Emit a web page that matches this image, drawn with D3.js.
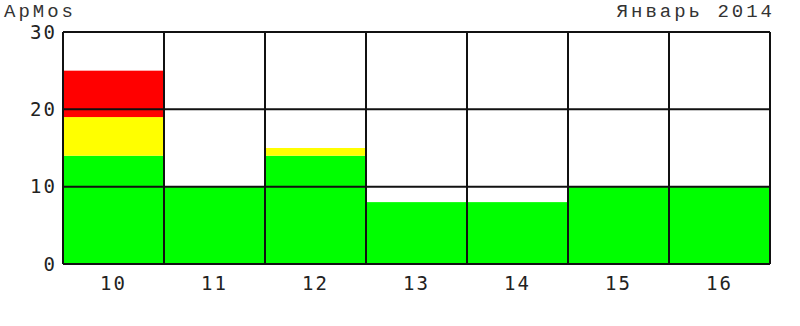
<!DOCTYPE html>
<html lang="ru">
  <head>
    <meta charset="UTF-8" />
    <title>ApMos</title>
    <style>
      body { margin: 0; background: #fff; }
      .tick text { font-family: "DejaVu Sans Mono", monospace; font-size: 19px; letter-spacing: 2px; fill: #222; }
      .title { font-family: "Liberation Mono", "Courier New", monospace; font-size: 19px; letter-spacing: 3px; fill: #333; }
    </style>
  </head>
  <body>
    <script src="https://cdn.jsdelivr.net/npm/d3@7"></script>
    <script>
    // days of January 2014
    var days = ["10", "11", "12", "13", "14", "15", "16"];
    // stacked parts of ApMos per day
    var green  = [14, 10, 14, 8, 8, 10, 10];
    var yellow = [5, 0, 1, 0, 0, 0, 0];
    var red    = [6, 0, 0, 0, 0, 0, 0];
    var yTicks = [0, 10, 20, 30];

    var width = 800, height = 326;
    var margin = { top: 32, right: 30, bottom: 62, left: 63 };

    var svg = d3.select("body").append("svg")
      .attr("width", width)
      .attr("height", height);

    var g = svg.append("g")
      .attr("transform", "translate(" + margin.left + "," + margin.top + ")");

    var w = width - margin.left - margin.right;
    var h = height - margin.top - margin.bottom;

    var x = d3.scaleBand().domain(days).range([0, w]).padding(0);
    var y = d3.scaleLinear().domain([0, 30]).range([h, 0]);

    var rows = days.map(function(d, i) {
      return { day: d, green: green[i], yellow: yellow[i], red: red[i] };
    });
    var stack = d3.stack().keys(["green", "yellow", "red"])(rows);
    var colors = { green: "#00ff00", yellow: "#ffff00", red: "#ff0000" };

    g.selectAll("g.layer")
      .data(stack)
      .enter().append("g")
      .attr("class", "layer")
      .attr("fill", function(d) { return colors[d.key]; })
      .selectAll("rect")
      .data(function(d) { return d; })
      .enter().append("rect")
      .attr("x", function(d) { return x(d.data.day); })
      .attr("width", x.bandwidth())
      .attr("y", function(d) { return y(d[1]); })
      .attr("height", function(d) { return y(d[0]) - y(d[1]); });

    // grid
    g.selectAll("line.hgrid")
      .data(yTicks)
      .enter().append("line")
      .attr("x1", 0).attr("x2", w)
      .attr("y1", function(d) { return y(d); })
      .attr("y2", function(d) { return y(d); })
      .attr("stroke", "#111").attr("stroke-width", 2);

    var vx = days.map(function(d) { return x(d); }).concat([w]);
    g.selectAll("line.vgrid")
      .data(vx)
      .enter().append("line")
      .attr("x1", function(d) { return d; })
      .attr("x2", function(d) { return d; })
      .attr("y1", 0).attr("y2", h)
      .attr("stroke", "#111").attr("stroke-width", 2);

    var yAxis = g.append("g")
      .call(d3.axisLeft(y).tickValues(yTicks).tickSize(0).tickPadding(6));
    yAxis.select(".domain").remove();

    var xAxis = g.append("g")
      .attr("transform", "translate(0," + h + ")")
      .call(d3.axisBottom(x).tickSize(0).tickPadding(13));
    xAxis.select(".domain").remove();
    xAxis.selectAll(".tick text").attr("dy", "0.71em");

    svg.append("text").attr("class", "title")
      .attr("x", 4).attr("y", 17)
      .text("ApMos");

    svg.append("text").attr("class", "title")
      .attr("x", 775).attr("y", 17)
      .attr("text-anchor", "end")
      .text("Январь 2014");
    </script>
  </body>
</html>
